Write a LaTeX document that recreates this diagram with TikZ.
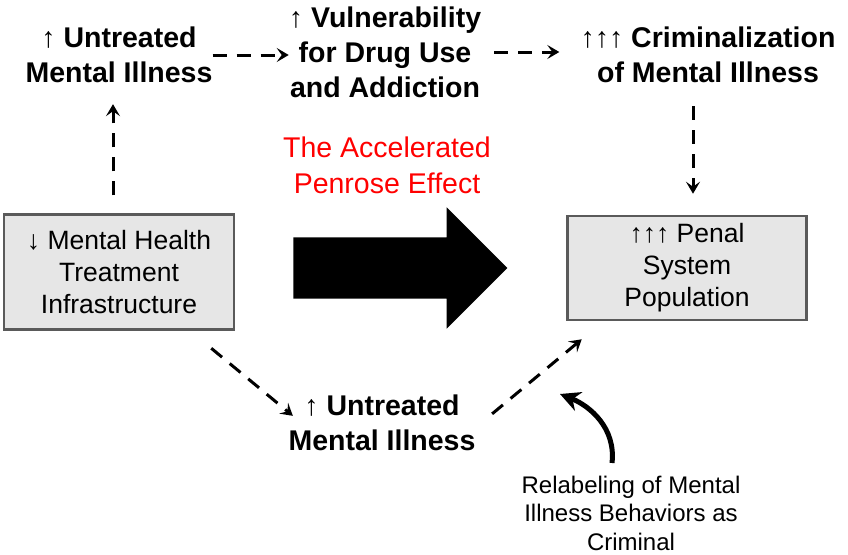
\documentclass[tikz,border=0pt]{standalone}
\usepackage{fontspec}
\setmainfont{Liberation Sans}
\usetikzlibrary{shapes.arrows, arrows.meta}
\definecolor{boxfill}{RGB}{230,230,230}
\definecolor{boxline}{RGB}{90,90,90}
\tikzstyle{effect} = [inner sep=0pt, align=center, font=\fontsize{28.5}{35}\selectfont\bfseries]
\tikzstyle{accelerated} = [inner sep=0pt, align=center, text=red, font=\fontsize{28.5}{36}\selectfont]
\tikzstyle{stage} = [rectangle, draw=boxline, line width=2.5pt, fill=boxfill, inner sep=0pt, align=center, font=\fontsize{26.5}{32}\selectfont]
\tikzstyle{note} = [inner sep=0pt, align=center, font=\fontsize{24}{28.5}\selectfont]
\tikzstyle{dasharrow} = [line width=3pt, dash pattern=on 14pt off 10pt, -{Stealth[length=12pt,width=14pt,inset=5pt]}]
\tikzstyle{curvearrow} = [line width=5pt, -{Stealth[length=20pt,width=20pt]}]

\begin{document}
\begin{tikzpicture}[x=1pt, y=-1pt, node distance=266pt]
\useasboundingbox (0,0) rectangle (848,554);

\node (um1) [effect] at (119,55) {↑ Untreated\\Mental Illness};
\node (vuln) [effect, right of=um1, yshift=3pt] {↑ Vulnerability\\for Drug Use\\and Addiction};
\draw [dasharrow] (um1.east) -- (um1.east -| vuln.west);
\node (crim) [effect, right of=vuln, xshift=57pt, yshift=-3pt] {↑↑↑ Criminalization\\of Mental Illness};
\draw [dasharrow, shorten <=13pt, shorten >=21pt] (vuln.east) -- (vuln.east -| crim.west);

\node (accel) [accelerated, below of=vuln, xshift=2pt, yshift=153pt] {The Accelerated\\Penrose Effect};

\node (mhti) [stage, below of=um1, yshift=49pt, minimum width=230pt, minimum height=115pt] {↓ Mental Health\\Treatment\\Infrastructure};
\draw [dasharrow, shorten <=18pt, shorten >=21pt] ([xshift=-6pt]mhti.north) -- ([xshift=-6pt]mhti.north |- um1.south);

\node (penal) [stage, below of=crim, xshift=-21pt, yshift=53pt, minimum width=239pt, minimum height=104pt] {↑↑↑ Penal\\System\\Population};
\draw [dasharrow, shorten <=23pt, shorten >=21pt] ([xshift=6pt]penal.north |- crim.south) -- ([xshift=6pt]penal.north);

\node (push) [single arrow, fill=black, inner sep=0pt, text height=61pt, text depth=0pt, minimum height=214pt, single arrow head extend=30pt, right of=mhti, yshift=4pt] {};

\node (um2) [effect, below of=vuln, xshift=-3pt, yshift=-105pt] {↑ Untreated\\Mental Illness};
\draw [dasharrow] ([xshift=-24pt, yshift=-17.5pt]mhti.south east) -- ([xshift=4.5pt, yshift=-21pt]um2.north west);
\draw [dasharrow] ([xshift=16.5pt, yshift=-19pt]um2.north east) -- ([xshift=15.5pt, yshift=-18pt]penal.south west);

\node (relab) [note, below of=penal, xshift=-56pt, yshift=21pt] {Relabeling of Mental\\Illness Behaviors as\\Criminal};
\coordinate (relabtip) at (560,394);
\draw [curvearrow] ([xshift=-19pt, yshift=12.5pt]relab.north) .. controls +(4,-35) and +(30,12) .. (relabtip);

\end{tikzpicture}
\end{document}
